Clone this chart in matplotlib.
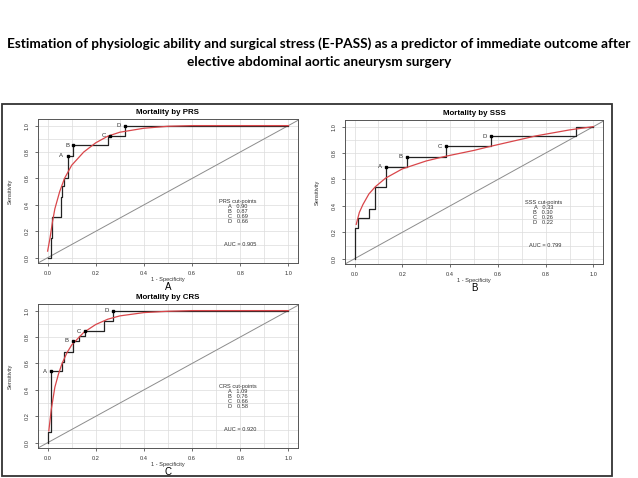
import matplotlib
matplotlib.use('Agg')
import matplotlib.pyplot as plt
from matplotlib.patches import Rectangle

W, H = 638, 478

title_lines = ['Estimation of physiologic ability and surgical stress (E-PASS) as a predictor of immediate outcome after',
               'elective abdominal aortic aneurysm surgery']

# PRS panel
prs_fpr = [0, 0.015, 0.015, 0.02, 0.02, 0.055, 0.055, 0.06, 0.06, 0.07, 0.07, 0.083, 0.083,
           0.107, 0.107, 0.25, 0.25, 0.32, 0.32, 1.0]
prs_tpr = [0, 0, 0.15, 0.15, 0.31, 0.31, 0.46, 0.46, 0.54, 0.54, 0.6, 0.6, 0.77,
           0.77, 0.85, 0.85, 0.925, 0.925, 1.0, 1.0]
prs_fit_x = [0.0, 0.01, 0.02, 0.03, 0.05, 0.07, 0.1, 0.15, 0.2, 0.25, 0.3, 0.4, 0.5, 0.6, 1.0]
prs_fit_y = [0.05, 0.15, 0.27, 0.37, 0.5, 0.6, 0.7, 0.8, 0.87, 0.92, 0.95, 0.98, 0.995, 1.0, 1.0]
prs_cut_x = [0.083, 0.107, 0.258, 0.322]
prs_cut_y = [0.77, 0.85, 0.925, 1.0]
prs_cut_vals = ['0.90', '0.87', '0.69', '0.66']
prs_auc = '0.905'

# SSS panel
sss_fpr = [0, 0, 0.014, 0.014, 0.062, 0.062, 0.087, 0.087, 0.131, 0.131, 0.218, 0.218,
           0.382, 0.382, 0.572, 0.572, 0.927, 0.927, 1.0]
sss_tpr = [0, 0.23, 0.23, 0.31, 0.31, 0.38, 0.38, 0.545, 0.545, 0.695, 0.695, 0.77,
           0.77, 0.85, 0.85, 0.927, 0.927, 1.0, 1.0]
sss_fit_x = [0.007, 0.02, 0.035, 0.06, 0.087, 0.13, 0.2, 0.3, 0.38, 0.5, 0.572, 0.7, 0.76, 0.9, 1.0]
sss_fit_y = [0.26, 0.35, 0.41, 0.49, 0.545, 0.61, 0.68, 0.74, 0.775, 0.82, 0.852, 0.905, 0.93, 0.975, 1.0]
sss_cut_x = [0.131, 0.218, 0.382, 0.572]
sss_cut_y = [0.695, 0.77, 0.85, 0.927]
sss_cut_vals = ['0.33', '0.30', '0.26', '0.22']
sss_auc = '0.799'

# CRS panel
crs_fpr = [0, 0, 0.015, 0.015, 0.06, 0.06, 0.067, 0.067, 0.105, 0.105, 0.13, 0.13,
           0.155, 0.155, 0.233, 0.233, 0.27, 0.27, 1.0]
crs_tpr = [0, 0.08, 0.08, 0.54, 0.54, 0.61, 0.61, 0.687, 0.687, 0.77, 0.77, 0.81,
           0.81, 0.845, 0.845, 0.92, 0.92, 1.0, 1.0]
crs_fit_x = [0.005, 0.015, 0.03, 0.045, 0.06, 0.08, 0.1, 0.15, 0.2, 0.25, 0.3, 0.4, 0.5, 0.6, 1.0]
crs_fit_y = [0.09, 0.25, 0.42, 0.52, 0.6, 0.68, 0.74, 0.835, 0.895, 0.935, 0.96, 0.985, 0.995, 1.0, 1.0]
crs_cut_x = [0.015, 0.105, 0.155, 0.27]
crs_cut_y = [0.54, 0.77, 0.845, 1.0]
crs_cut_vals = ['1.09', '0.76', '0.66', '0.58']
crs_auc = '0.920'

cut_letters = ['A', 'B', 'C', 'D']
ticks = [0.0, 0.2, 0.4, 0.6, 0.8, 1.0]
tick_labels = ['0.0', '0.2', '0.4', '0.6', '0.8', '1.0']

plt.rcParams['font.family'] = ['Liberation Sans', 'DejaVu Sans']

fig = plt.figure(figsize=(W / 100, H / 100), dpi=100)
fig.patch.set_facecolor('white')

for i, line in enumerate(title_lines):
    fig.text(0.5, 1 - (44 + 18 * i) / H, line, ha='center', va='center',
             fontsize=9.8, fontweight='bold', family='Lato')

# outer frame of the pasted figure
fig.add_artist(Rectangle((2 / W, 1 - 476 / H), (612 - 2) / W, (476 - 104) / H,
                         transform=fig.transFigure, fill=False, ec='#333333', lw=1.3))


def panel(box, title, letter, name, fpr, tpr, fx, fy, cx, cy, vals, auc):
    l, t, r, b = box
    ax = fig.add_axes([l / W, 1 - b / H, (r - l) / W, (b - t) / H])
    ax.set_xlim(-0.04, 1.04)
    ax.set_ylim(-0.04, 1.05)
    for v in [k / 10 for k in range(11)]:
        ax.axvline(v, color='#dcdcdc', lw=0.5, zorder=0)
        ax.axhline(v, color='#dcdcdc', lw=0.5, zorder=0)
    ax.axline((0, 0), (1, 1), color='#8c8c8c', lw=0.7, zorder=1)
    ax.plot(fpr, tpr, color='#222222', lw=0.9, zorder=2)
    ax.plot(fx, fy, color='#d9464a', lw=0.9, zorder=3)
    ax.plot(cx, cy, 's', color='black', ms=1.6, zorder=4)
    for x, y, let in zip(cx, cy, cut_letters):
        ax.annotate(let, (x, y), xytext=(-3, 0), textcoords='offset points',
                    ha='right', va='center', fontsize=4.3, color='#333333')
    ax.text(0.79, 0.425, name + ' cut-points', ha='center', va='center', fontsize=4.1, color='#333333')
    for k, (let, v) in enumerate(zip(cut_letters, vals)):
        ax.text(0.79, 0.385 - k * 0.038, let + '   ' + v, ha='center', va='center',
                fontsize=4.1, color='#333333')
    ax.text(0.8, 0.097, 'AUC = ' + auc, ha='center', va='center', fontsize=4.1, color='#333333')
    ax.set_xticks(ticks)
    ax.set_xticklabels(tick_labels)
    ax.set_yticks(ticks)
    ax.set_yticklabels(tick_labels, rotation=90, va='center')
    ax.tick_params(labelsize=4.1, length=2.2, width=0.5, pad=3.5, colors='#333333')
    for s in ax.spines.values():
        s.set_color('#555555')
        s.set_linewidth(0.7)
    ax.set_title(title, fontsize=5.7, fontweight='bold', pad=3.5)
    ax.set_xlabel('1 - Specificity', fontsize=4.1, labelpad=0.5, color='#333333')
    ax.set_ylabel('Sensitivity', fontsize=4.1, labelpad=9, color='#333333')
    fig.text(((l + r) / 2) / W, 1 - (b + 24) / H, letter, ha='center', va='center', fontsize=7)
    return ax


panel((38, 119, 298, 263), 'Mortality by PRS', 'A', 'PRS', prs_fpr, prs_tpr, prs_fit_x, prs_fit_y,
      prs_cut_x, prs_cut_y, prs_cut_vals, prs_auc)
panel((345, 120, 603, 264), 'Mortality by SSS', 'B', 'SSS', sss_fpr, sss_tpr, sss_fit_x, sss_fit_y,
      sss_cut_x, sss_cut_y, sss_cut_vals, sss_auc)
panel((38, 304, 298, 448), 'Mortality by CRS', 'C', 'CRS', crs_fpr, crs_tpr, crs_fit_x, crs_fit_y,
      crs_cut_x, crs_cut_y, crs_cut_vals, crs_auc)

fig.savefig('out.png', dpi=100)
